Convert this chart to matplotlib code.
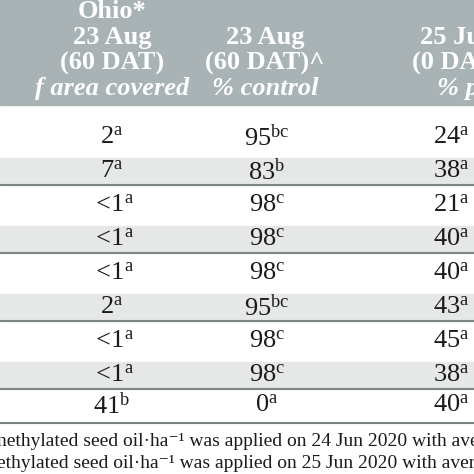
import matplotlib.pyplot as plt
from matplotlib.patches import Rectangle

plt.rcParams['font.family'] = ['Liberation Serif', 'DejaVu Serif']
plt.rcParams['mathtext.fontset'] = 'custom'
plt.rcParams['mathtext.rm'] = 'Liberation Serif'

header_col1 = ['Ohio*', '23 Aug', '(60 DAT)', 'f area covered']
header_col2 = ['', '23 Aug', '(60 DAT)^', '% control']
header_col3 = ['', '25 Jun', '(0 DAT)', '% p']

cover_vals = ['2', '7', '<1', '<1', '<1', '2', '<1', '<1', '41']
cover_sig = ['a', 'a', 'a', 'a', 'a', 'a', 'a', 'a', 'b']
control_vals = ['95', '83', '98', '98', '98', '95', '98', '98', '0']
control_sig = ['bc', 'b', 'c', 'c', 'c', 'bc', 'c', 'c', 'a']
p_vals = ['24', '38', '21', '40', '40', '43', '45', '38', '40']
p_sig = ['a'] * 9

footnotes = [
    'nethylated seed oil\u00b7ha\u207b\u00b9 was applied on 24 Jun 2020 with average crabgrass wa',
    'ethylated seed oil\u00b7ha\u207b\u00b9 was applied on 25 Jun 2020 with average crabgrass wa',
]

W = H = 474
fig = plt.figure(figsize=(4.74, 4.74), dpi=100)
ax = fig.add_axes([0, 0, 1, 1])
ax.set_xlim(0, W)
ax.set_ylim(H, 0)
ax.axis('off')

head_col = '#a9b3b5'
shade = '#e6e8e8'
line_col = '#7d8485'

# header band
ax.add_patch(Rectangle((0, 0), W, 105, color=head_col, zorder=0))
head_y = [11, 37, 63, 88]
col_x = [112, 265, 458]
for hdr, x in zip([header_col1, header_col2, header_col3], col_x):
    for i, (t, y) in enumerate(zip(hdr, head_y)):
        if not t:
            continue
        ax.text(x, y, t, ha='center', va='center', color='white',
                fontsize=19, fontweight='bold', style='italic' if i == 3 else 'normal')

# body rows: white tall row, shaded short row, then rule
y = 110
centers = []
for i in range(len(cover_vals)):
    h = 48 if i == 0 else (41 if i % 2 == 0 else 27)
    if i == len(cover_vals) - 1:
        h = 34
    if i % 2 == 1:
        ax.add_patch(Rectangle((0, y), W, h, color=shade, zorder=0))
    centers.append(y + h / 2 + (4 if i == 0 else 0))
    y += h
    if i % 2 == 1 or i == len(cover_vals) - 1:
        ax.plot([0, W], [y, y], color=line_col, lw=1.5, zorder=1)

def cell(x, yc, v, s, ha='center'):
    v = v.replace('<', r'<\!')
    ax.text(x, yc, r'$\mathregular{%s^{%s}}$' % (v, s), ha=ha, va='center',
            fontsize=19, color='#1a1a1a')

for i, yc in enumerate(centers):
    cell(112, yc, cover_vals[i], cover_sig[i])
    cell(267, yc, control_vals[i], control_sig[i])
    cell(470, yc, p_vals[i], p_sig[i], ha='right')

for j, t in enumerate(footnotes):
    ax.text(-3, 441 + j * 23, t, ha='left', va='center', fontsize=14, color='#1a1a1a')

fig.savefig('out.png', dpi=100)
